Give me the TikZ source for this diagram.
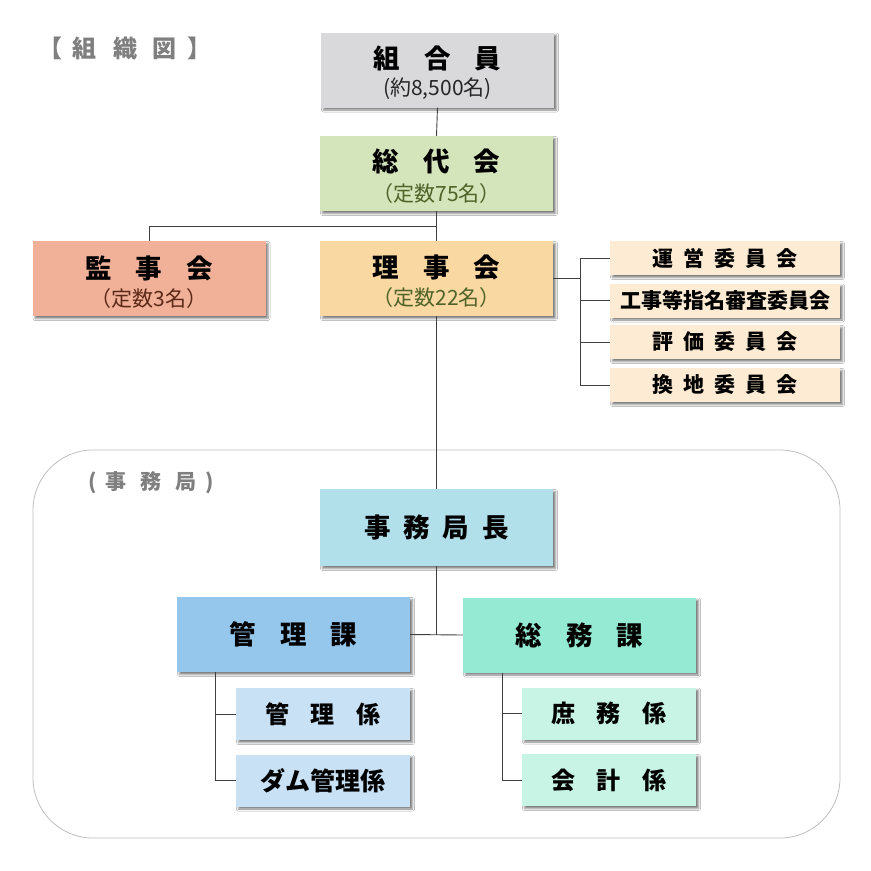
\documentclass[tikz,border=0pt]{standalone}
\usepackage{fontspec}
\newfontfamily\jp{Noto Sans CJK JP}
\usetikzlibrary{shadows.blur}
\definecolor{cGray}{HTML}{D9D8DA}
\definecolor{cGreen}{HTML}{D5E5BB}
\definecolor{cSalmon}{HTML}{F1B098}
\definecolor{cPeach}{HTML}{FAD8A1}
\definecolor{cCream}{HTML}{FDEBD3}
\definecolor{cCyan}{HTML}{B1DFEA}
\definecolor{cBlue}{HTML}{95C7EC}
\definecolor{cMint}{HTML}{94EAD3}
\definecolor{cLBlue}{HTML}{C8E1F5}
\definecolor{cLMint}{HTML}{C8F4E6}
\definecolor{tOlive}{HTML}{4F6228}
\definecolor{tBrown}{HTML}{5B2A17}
\definecolor{tGray}{HTML}{7F7F7F}
\definecolor{lineC}{HTML}{404040}
\begin{document}
\begin{tikzpicture}[x=1pt,y=-1pt,
  box/.style={fill=#1, draw=none, inner sep=0pt,
    blur shadow={shadow xshift=2.5pt, shadow yshift=-2.5pt, shadow blur radius=2pt, shadow opacity=50},
    font=\jp\bfseries, text=black},
  bigbox/.style={box=#1, minimum width=233pt, minimum height=75pt},
  combox/.style={box=cCream, minimum width=230pt, minimum height=34pt, font=\jp\bfseries\fontsize{21}{23}\selectfont},
  kakbox/.style={box=#1, minimum width=174pt, minimum height=52pt, font=\jp\bfseries\fontsize{24}{26}\selectfont},
  maintxt/.style={inner sep=0pt, font=\jp\bfseries\fontsize{26.5}{28}\selectfont, text=black},
  subtxt/.style={inner sep=0pt, font=\jp\fontsize{21}{23}\selectfont, text=#1},
  conn/.style={draw=lineC, line width=0.9pt},
]
\useasboundingbox (0,0) rectangle (871,871);
\fill[white] (0,0) rectangle (871,871);

% title
\node[inner sep=0pt, font=\jp\bfseries\fontsize{24}{26}\selectfont, text=tGray] (title) at (125,48)
  {【\hspace{11pt}組\hspace{16pt}織\hspace{16pt}図\hspace{11pt}】};

% office container
\draw[draw=black!25, line width=0.8pt, rounded corners=60pt] (33,450) rectangle (840,838);
\node[inner sep=0pt, font=\jp\bfseries\fontsize{21}{23}\selectfont, text=tGray] (office) at (151,483)
  {(\hspace{9pt}事\hspace{14pt}務\hspace{14pt}局\hspace{9pt})};

% top boxes
\node[bigbox=cGray] (kumiai) at (437.5,70) {};
\node[maintxt] (kumiaiT) at (437.5,58) {組\hspace{24pt}合\hspace{24pt}員};
\node[subtxt=black!85] (kumiaiS) at (437.5,89) {(約8,500名)};

\node[bigbox=cGreen] (soudai) at (436.5,173.5) {};
\node[maintxt] (soudaiT) at (436.5,161) {総\hspace{24pt}代\hspace{24pt}会};
\node[subtxt=tOlive] (soudaiS) at (436.5,194) {（定数75名）};

\node[bigbox=cSalmon] (kanji) at (149,278.5) {};
\node[maintxt] (kanjiT) at (149,268) {監\hspace{24pt}事\hspace{24pt}会};
\node[subtxt=tBrown] (kanjiS) at (149,299) {（定数3名）};

\node[bigbox=cPeach] (riji) at (436.5,278.5) {};
\node[maintxt] (rijiT) at (436.5,267) {理\hspace{24pt}事\hspace{24pt}会};
\node[subtxt=tOlive] (rijiS) at (436.5,298) {（定数22名）};

% committees
\node[combox] (c1) at (725,258) {運\hspace{10pt}営\hspace{10pt}委\hspace{10pt}員\hspace{10pt}会};
\node[combox] (c2) at (725,300.5) {工事等指名審査委員会};
\node[combox] (c3) at (725,342) {評\hspace{10pt}価\hspace{10pt}委\hspace{10pt}員\hspace{10pt}会};
\node[combox] (c4) at (725,385) {換\hspace{10pt}地\hspace{10pt}委\hspace{10pt}員\hspace{10pt}会};

% office boxes
\node[bigbox=cCyan, minimum height=77pt, font=\jp\bfseries\fontsize{26.5}{28}\selectfont] (chou) at (436.5,527.5) {事\hspace{13pt}務\hspace{13pt}局\hspace{13pt}長};
\node[bigbox=cBlue, font=\jp\bfseries\fontsize{26.5}{28}\selectfont] (kanrika) at (293.5,634.5) {管\hspace{24pt}理\hspace{24pt}課};
\node[bigbox=cMint, font=\jp\bfseries\fontsize{26.5}{28}\selectfont] (soumuka) at (579.5,635) {総\hspace{24pt}務\hspace{24pt}課};

\node[kakbox=cLBlue] (k1) at (323,714) {管\hspace{22pt}理\hspace{22pt}係};
\node[kakbox=cLBlue, font=\jp\bfseries\fontsize{25}{27}\selectfont] (k2) at (323,780.5) {ダム管理係};
\node[kakbox=cLMint] (s1) at (609,713.5) {庶\hspace{22pt}務\hspace{22pt}係};
\node[kakbox=cLMint] (s2) at (609,780) {会\hspace{22pt}計\hspace{22pt}係};

% connectors
\coordinate (j1) at (436.5,226);
\coordinate (j2) at (436.5,634.5);
\coordinate (kb) at (215,700);
\coordinate (sb) at (502,700);
\draw[conn] (kumiai.south) -- (soudai.north);
\draw[conn] (soudai.south) -- (j1);
\draw[conn] (j1) -| (kanji.north);
\draw[conn] (j1) -- (riji.north);
\draw[conn] (riji.south) -- (chou.north);
\draw[conn] (riji.east) -- ++(28,0);
\draw[conn] (c1.west) -- ++(-29,0) |- (c4.west);
\draw[conn] (c2.west) -- ++(-29,0);
\draw[conn] (c3.west) -- ++(-29,0);
\draw[conn] (chou.south) -- (j2);
\draw[conn] (kanrika.east) -- (soumuka.west);
\draw[conn] (kanrika.south -| kb) |- (k2.west);
\draw[conn] (k1.west) -- (k1.west -| kb);
\draw[conn] (soumuka.south -| sb) |- (s2.west);
\draw[conn] (s1.west) -- (s1.west -| sb);
\end{tikzpicture}
\end{document}
